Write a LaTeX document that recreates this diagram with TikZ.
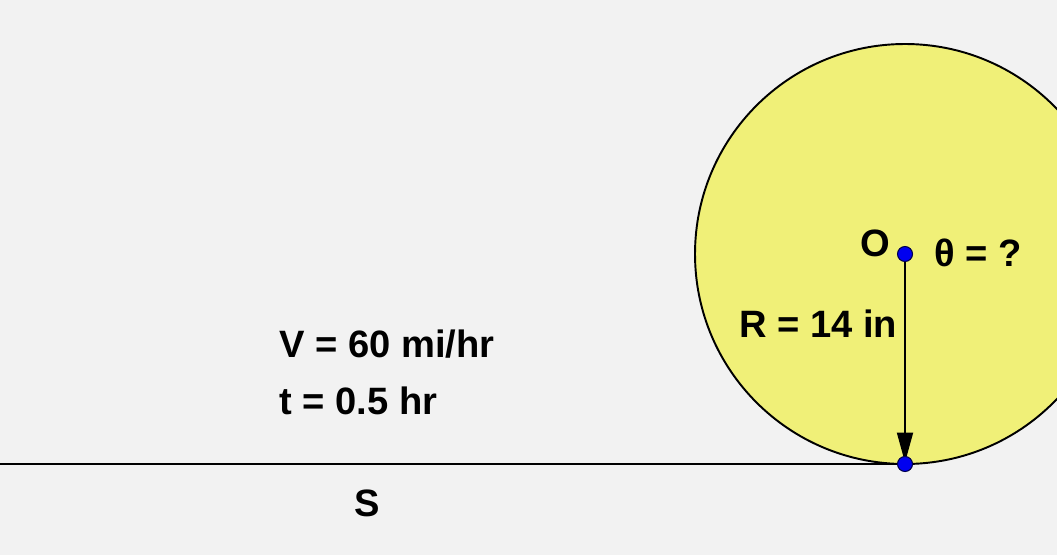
\documentclass[tikz,border=0pt]{standalone}
\usepackage{fontspec}
\setmainfont{Liberation Sans}
\usetikzlibrary{arrows.meta}
\definecolor{bgray}{HTML}{F2F2F2}
\definecolor{wheel}{HTML}{F0F078}
\definecolor{dotblue}{HTML}{0000F0}
\begin{document}
\begin{tikzpicture}[arrow/.style = {line width=1.1pt,-{Triangle[length=0.6cm,width=0.32cm]}},
                    lbl/.style = {font=\fontsize{21.7}{26}\selectfont\bfseries, inner sep=0pt, anchor=base west},
                    dot/.style = {fill=dotblue, draw=black!70!blue, line width=0.6pt}]
                        \fill[bgray] (0,0) rectangle (21.14,11.1);
                        \clip (0,0) rectangle (21.14,11.1);
                        \coordinate (O) at (18.1,6.02);
                        \coordinate (P) at (18.1,1.82);
                        \coordinate (L) at (0,1.82);

                        \draw[fill=wheel, line width=1.1pt] (O) circle (4.2);
                        \draw[line width=1.1pt] (L) -- (P);
                        \draw[arrow, shorten >=0.03cm] (O) -- (P);
                        \filldraw[dot] (O) circle (0.15);
                        \filldraw[dot] (P) circle (0.15);

                        \node[lbl] (oname) at (17.2,5.98) {O};
                        \node[lbl] (theta) at (18.68,5.78) {θ = ?};
                        \node[lbl] (radius) at (14.78,4.36) {R = 14 in};
                        \node[lbl] (speed) at (5.58,3.96) {V = 60 mi/hr};
                        \node[lbl] (time) at (5.58,2.82) {t = 0.5 hr};
                        \node[lbl, anchor=base] (dist) at (7.34,0.78) {S};
                    \end{tikzpicture}
\end{document}
